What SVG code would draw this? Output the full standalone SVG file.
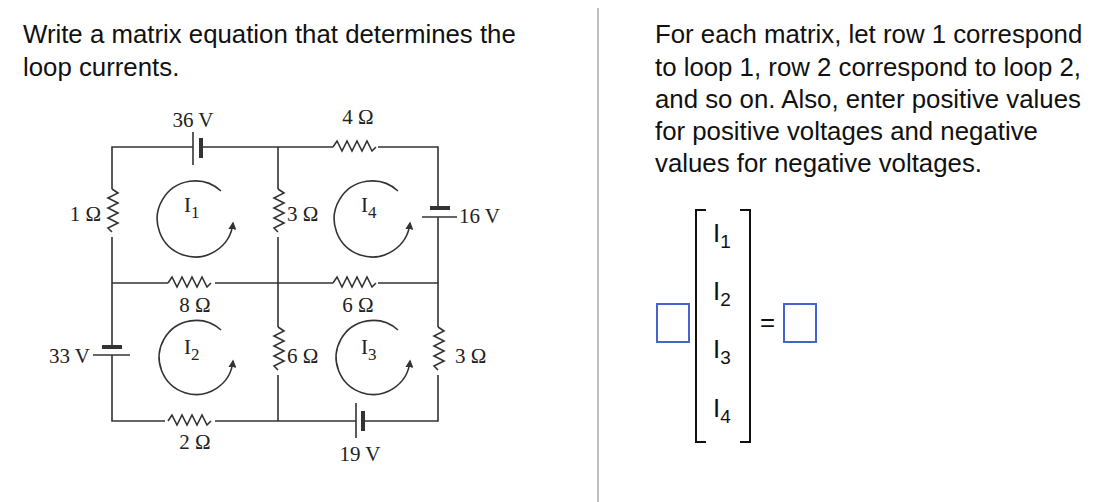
<svg xmlns="http://www.w3.org/2000/svg" width="1098" height="502" viewBox="0 0 1098 502">
<defs>
<style>
.w{stroke:#333;stroke-width:1.6;fill:none}
.b{stroke:#333;stroke-width:4;fill:none}
.s{font-family:"Liberation Serif",serif;font-size:21px;fill:#222}
.sub{font-size:17px}
.t{font-family:"Liberation Sans",Arial,sans-serif;font-size:25.8px;fill:#111}
.box{fill:#fff;stroke:#4466cc;stroke-width:2}
</style>
<marker id="ah" viewBox="0 0 10 10" refX="8" refY="5" markerWidth="8" markerHeight="8" orient="auto" markerUnits="userSpaceOnUse"><path d="M0,0L10,5L0,10z" fill="#333"/></marker>
</defs>
<rect width="1098" height="502" fill="#fff"/>
<text class="t" x="23" y="43">Write a matrix equation that determines the</text>
<text class="t" x="23" y="76">loop currents.</text>
<line x1="598" y1="8" x2="598" y2="502" stroke="#aaa" stroke-width="1.5"/>
<g id="instructions">
<text class="t" x="655" y="43">For each matrix, let row 1 correspond</text>
<text class="t" x="655" y="76">to loop 1, row 2 correspond to loop 2,</text>
<text class="t" x="655" y="108">and so on. Also, enter positive values</text>
<text class="t" x="655" y="140">for positive voltages and negative</text>
<text class="t" x="655" y="172">values for negative voltages.</text>
</g>
<g id="circuit-wires">
<path class="w" d="M193,147H112V189M112,237V347M112,355V421H165M215,421H356M363,421H438V375M438,327V283H378M333,283H278V327M278,375V421"/>
<path class="w" d="M201,147H333M378,147H438V208M438,217V283M278,147V189M278,237V283M112,283H168M215,283H278"/>
<path class="w" d="M333,147l4,-6l5,10l5,-10l5,10l5,-10l5,10l5,-10l5,10l4,-4"/>
<path class="w" d="M333,283l4,-6l5,10l5,-10l5,10l5,-10l5,10l5,-10l5,10l4,-4"/>
<path class="w" d="M168,283l4,-6l5,10l5,-10l5,10l5,-10l5,10l5,-10l5,10l4,-4"/>
<path class="w" d="M165,421l4,-6l5,10l5,-10l5,10l5,-10l5,10l5,-10l5,10l4,-4" transform="translate(3,0)"/>
<path class="w" d="M112,189l6,4l-10,5l10,5l-10,5l10,5l-10,5l10,5l-10,5l4,4"/>
<path class="w" d="M278,189l6,4l-10,5l10,5l-10,5l10,5l-10,5l10,5l-10,5l4,4"/>
<path class="w" d="M278,327l6,4l-10,5l10,5l-10,5l10,5l-10,5l10,5l-10,5l4,4"/>
<path class="w" d="M438,327l6,4l-10,5l10,5l-10,5l10,5l-10,5l10,5l-10,5l4,4"/>
<line class="w" x1="193" y1="132" x2="193" y2="165"/><line class="b" x1="201" y1="138" x2="201" y2="158"/>
<line class="b" x1="430" y1="208" x2="450" y2="208"/><line class="w" x1="422" y1="217" x2="457" y2="217"/>
<line class="b" x1="102" y1="347" x2="122" y2="347"/><line class="w" x1="93" y1="355" x2="130" y2="355"/>
<line class="w" x1="356" y1="403" x2="356" y2="438"/><line class="b" x1="363" y1="411" x2="363" y2="431"/>
</g>
<g id="loops">
<path class="w" stroke-width="1.8" d="M221,191A38,38 0 1 0 233,223" marker-end="url(#ah)"/>
<path class="w" stroke-width="1.8" d="M398,191A38,38 0 1 0 410,223" marker-end="url(#ah)"/>
<path class="w" stroke-width="1.8" d="M221,330A37,37 0 1 0 233,361" marker-end="url(#ah)"/>
<path class="w" stroke-width="1.8" d="M398,330A37,37 0 1 0 410,361" marker-end="url(#ah)"/>
</g>
<g id="labels">
<text class="s" x="193" y="127" text-anchor="middle">36 V</text>
<text class="s" x="358" y="124" text-anchor="middle">4 Ω</text>
<text class="s" x="101" y="221" text-anchor="end">1 Ω</text>
<text class="s" x="287" y="221">3 Ω</text>
<text class="s" x="459" y="223">16 V</text>
<text class="s" x="195" y="312" text-anchor="middle">8 Ω</text>
<text class="s" x="358" y="312" text-anchor="middle">6 Ω</text>
<text class="s" x="90" y="363" text-anchor="end">33 V</text>
<text class="s" x="287" y="363">6 Ω</text>
<text class="s" x="455" y="363">3 Ω</text>
<text class="s" x="195" y="449" text-anchor="middle">2 Ω</text>
<text class="s" x="360" y="461" text-anchor="middle">19 V</text>
<text class="s" x="184" y="212">I<tspan class="sub" dy="6">1</tspan></text>
<text class="s" x="361" y="212">I<tspan class="sub" dy="6">4</tspan></text>
<text class="s" x="184" y="354">I<tspan class="sub" dy="6">2</tspan></text>
<text class="s" x="361" y="354">I<tspan class="sub" dy="6">3</tspan></text>
</g>
<g id="matrix">
<rect class="box" x="657" y="304" width="32" height="38"/>
<path d="M706,210H696V442H706M740,210H750V442H740" fill="none" stroke="#111" stroke-width="2"/>
<text class="t" x="713" y="242">I<tspan font-size="19" dy="6">1</tspan></text>
<text class="t" x="713" y="300">I<tspan font-size="19" dy="6">2</tspan></text>
<text class="t" x="713" y="358">I<tspan font-size="19" dy="6">3</tspan></text>
<text class="t" x="713" y="417">I<tspan font-size="19" dy="6">4</tspan></text>
<text class="t" x="760" y="331">=</text>
<rect class="box" x="784" y="304" width="32" height="38"/>
</g>
</svg>
